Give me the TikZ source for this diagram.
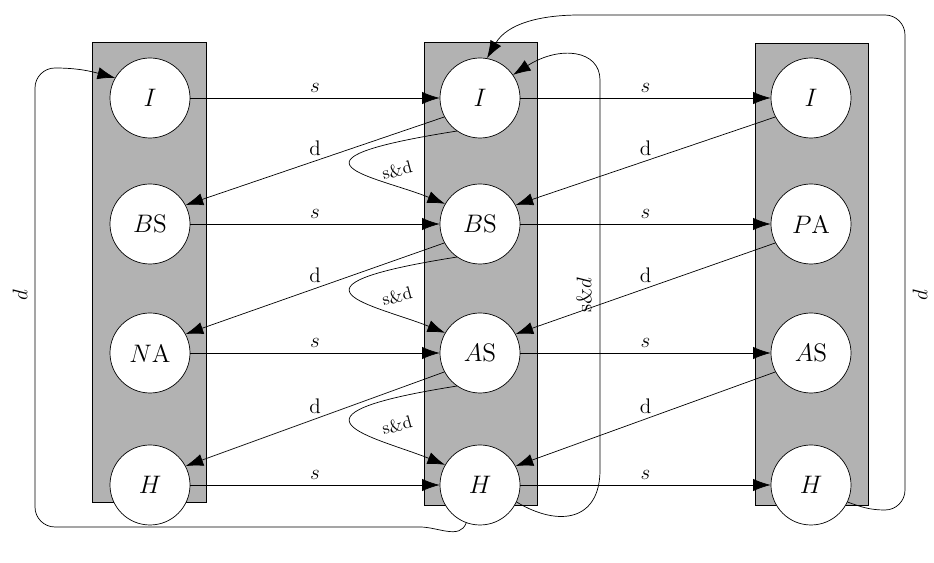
\documentclass[tikz,border=0pt]{standalone}
\usepackage{tikz}
\usetikzlibrary{arrows.meta,calc}

\tikzset{
    state/.style={circle, draw, fill=white, minimum size=80*0.02cm, inner sep=0pt, font=\Large},
    column/.style={draw, fill=black!30},
    arr/.style={-{Latex[length=10pt,width=7pt]}},
    lbl/.style={fill=none, inner sep=3pt, font=\large}
}

\begin{document}
\begin{tikzpicture}[x=0.02cm, y=-0.02cm]

        % Frame and columns
        \useasboundingbox (0,0) rectangle (934,563);
        \draw[column] (92,42) rectangle (206,502);
        \draw[column] (424,42) rectangle (537,505);
        \draw[column] (755,43) rectangle (868,505);

        % States
        \node[state] (LI) at (150,98) {$I$};
        \node[state] (LBS) at (150,224) {$B$S};
        \node[state] (LNA) at (150,353) {$N$A};
        \node[state] (LH) at (150,485) {$H$};

        \node[state] (MI) at (480,98) {$I$};
        \node[state] (MBS) at (480,224) {$B$S};
        \node[state] (MAS) at (480,353) {$A$S};
        \node[state] (MH) at (480,485) {$H$};

        \node[state] (RI) at (811,98) {$I$};
        \node[state] (RPA) at (811,224) {$P$A};
        \node[state] (RAS) at (811,353) {$A$S};
        \node[state] (RH) at (811,485) {$H$};

        % s transitions
        \foreach \a/\b in {LI/MI, LBS/MBS, LNA/MAS, LH/MH, MI/RI, MBS/RPA, MAS/RAS, MH/RH}
            \draw[arr] (\a) -- node[lbl, above] {$s$} (\b);

        % d transitions
        \foreach \a/\b in {MI/LBS, MBS/LNA, MAS/LH, RI/MBS, RPA/MAS, RAS/MH}
            \draw[arr] (\a.-152) -- node[lbl, above] {d} (\b.28);

        % s&d loops
        \foreach \a/\b in {MI/MBS, MBS/MAS, MAS/MH} {
            \draw[arr] (\a.-125) .. controls +(-190,30) and +(-70,-28) .. (\b.150);
            \node[lbl, font=\normalsize, rotate=15] at ($(\a)+(-83,72)$) {s\&d};
        }

        % Long returns
        \draw[arr] (MH.-110) to[out=-110,in=0] (420,527) -- (55,527) to[out=180,in=-90] (35,507)
            -- (35,88) to[out=90,in=180] (55,68) to[out=0,in=165] (LI.150);
        \node[lbl, rotate=90] (dleft) at (20,295) {$d$};
        \draw[arr] (MH.-25) .. controls (560,528) and (600,520) .. (600,470) -- (600,80)
            .. controls (600,50) and (560,45) .. (MI.35);
        \node[lbl, rotate=90] (sdright) at (584,295) {s\&$d$};
        \draw[arr] (RH.-25) to[out=-20,in=180] (885,510) to[out=0,in=-90] (905,490)
            -- (905,35) to[out=90,in=0] (885,15) -- (580,15) to[out=180,in=60] (MI.80);
        \node[lbl, rotate=90] (dright) at (920,295) {$d$};

\end{tikzpicture}
\end{document}
